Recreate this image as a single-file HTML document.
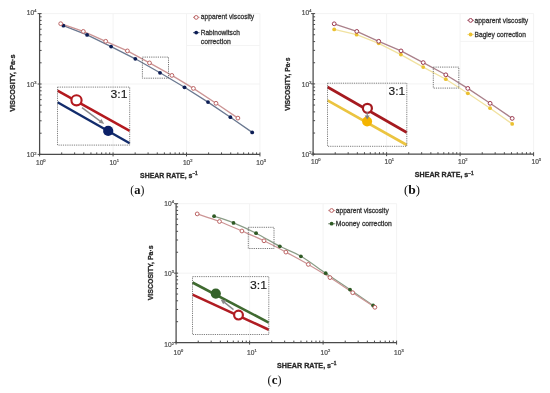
<!DOCTYPE html><html><head><meta charset="utf-8"><style>html,body{margin:0;padding:0;background:#fff;}svg{display:block;}</style></head><body><svg width="550" height="393" viewBox="0 0 550 393">
<style>.tl{font-family:'Liberation Sans', Arial, sans-serif;font-size:6.6px;fill:#505050;stroke:#505050;stroke-width:0.22px;}.sup{font-size:4px;}.al{font-family:'Liberation Sans', Arial, sans-serif;font-weight:bold;font-size:7.6px;fill:#2a2a2a;stroke:#2a2a2a;stroke-width:0.3px;}.lg{font-family:'Liberation Sans', Arial, sans-serif;font-size:7px;fill:#333;stroke:#333;stroke-width:0.28px;}.cap{font-family:'Liberation Serif', 'Times New Roman', serif;font-size:12.5px;fill:#111;}.r31{font-family:'Liberation Sans', Arial, sans-serif;font-size:11.2px;fill:#1a1a1a;stroke:#1a1a1a;stroke-width:0.15px;}</style>
<rect width="550" height="393" fill="#fff"/>
<line x1="113.05" y1="13.60" x2="113.05" y2="154.40" stroke="#f3f3f3" stroke-width="1"/>
<line x1="186.50" y1="13.60" x2="186.50" y2="154.40" stroke="#f3f3f3" stroke-width="1"/>
<line x1="259.95" y1="13.60" x2="259.95" y2="154.40" stroke="#f3f3f3" stroke-width="1"/>
<line x1="39.60" y1="84.00" x2="259.95" y2="84.00" stroke="#f3f3f3" stroke-width="1"/>
<line x1="39.60" y1="13.60" x2="259.95" y2="13.60" stroke="#f3f3f3" stroke-width="1"/>
<path d="M61.71 154.40v-2 M74.64 154.40v-2 M83.82 154.40v-2 M90.94 154.40v-2 M96.76 154.40v-2 M101.67 154.40v-2 M105.93 154.40v-2 M109.69 154.40v-2 M135.16 154.40v-2 M148.09 154.40v-2 M157.27 154.40v-2 M164.39 154.40v-2 M170.21 154.40v-2 M175.12 154.40v-2 M179.38 154.40v-2 M183.14 154.40v-2 M208.61 154.40v-2 M221.54 154.40v-2 M230.72 154.40v-2 M237.84 154.40v-2 M243.66 154.40v-2 M248.57 154.40v-2 M252.83 154.40v-2 M256.59 154.40v-2 M39.60 152.40v4 M113.05 152.40v4 M186.50 152.40v4 M259.95 152.40v4 M39.60 133.21h2 M39.60 120.81h2 M39.60 112.01h2 M39.60 105.19h2 M39.60 99.62h2 M39.60 94.91h2 M39.60 90.82h2 M39.60 87.22h2 M39.60 62.81h2 M39.60 50.41h2 M39.60 41.61h2 M39.60 34.79h2 M39.60 29.22h2 M39.60 24.51h2 M39.60 20.42h2 M39.60 16.82h2 M37.60 154.40h4 M37.60 84.00h4 M37.60 13.60h4" stroke="#4a4a4a" stroke-width="1" fill="none"/>
<path d="M39.60 13.60V154.40H259.95" stroke="#4a4a4a" stroke-width="1.25" fill="none"/>
<text x="36.40" y="157.40" text-anchor="end" class="tl">10<tspan class="sup" dy="-2.8">2</tspan></text>
<text x="36.40" y="86.80" text-anchor="end" class="tl">10<tspan class="sup" dy="-2.8">3</tspan></text>
<text x="36.40" y="15.20" text-anchor="end" class="tl">10<tspan class="sup" dy="-2.8">4</tspan></text>
<text x="36.00" y="165.00" class="tl">10<tspan class="sup" dy="-2.8">0</tspan></text>
<text x="109.45" y="165.00" class="tl">10<tspan class="sup" dy="-2.8">1</tspan></text>
<text x="182.90" y="165.00" class="tl">10<tspan class="sup" dy="-2.8">2</tspan></text>
<text x="256.35" y="165.00" class="tl">10<tspan class="sup" dy="-2.8">3</tspan></text>
<polyline points="63.40,25.70 87.10,34.90 111.10,46.60 135.30,58.80 160.00,72.80 184.50,87.30 208.00,102.10 230.40,117.20 252.20,132.40" fill="none" stroke="#6a7890" stroke-width="1.3" stroke-opacity="1.0" stroke-linejoin="round"/>
<polyline points="60.70,23.70 83.30,31.40 105.70,41.30 127.40,50.90 149.50,62.90 171.90,75.40 193.40,88.40 216.00,103.30 237.90,118.10" fill="none" stroke="#cc9595" stroke-width="1.3" stroke-opacity="1.0" stroke-linejoin="round"/>
<circle cx="63.40" cy="25.70" r="1.9" fill="#0c1d55"/>
<circle cx="87.10" cy="34.90" r="1.9" fill="#0c1d55"/>
<circle cx="111.10" cy="46.60" r="1.9" fill="#0c1d55"/>
<circle cx="135.30" cy="58.80" r="1.9" fill="#0c1d55"/>
<circle cx="160.00" cy="72.80" r="1.9" fill="#0c1d55"/>
<circle cx="184.50" cy="87.30" r="1.9" fill="#0c1d55"/>
<circle cx="208.00" cy="102.10" r="1.9" fill="#0c1d55"/>
<circle cx="230.40" cy="117.20" r="1.9" fill="#0c1d55"/>
<circle cx="252.20" cy="132.40" r="1.9" fill="#0c1d55"/>
<circle cx="60.70" cy="23.70" r="1.9" fill="#fff" stroke="#bc6464" stroke-width="1.0"/>
<circle cx="83.30" cy="31.40" r="1.9" fill="#fff" stroke="#bc6464" stroke-width="1.0"/>
<circle cx="105.70" cy="41.30" r="1.9" fill="#fff" stroke="#bc6464" stroke-width="1.0"/>
<circle cx="127.40" cy="50.90" r="1.9" fill="#fff" stroke="#bc6464" stroke-width="1.0"/>
<circle cx="149.50" cy="62.90" r="1.9" fill="#fff" stroke="#bc6464" stroke-width="1.0"/>
<circle cx="171.90" cy="75.40" r="1.9" fill="#fff" stroke="#bc6464" stroke-width="1.0"/>
<circle cx="193.40" cy="88.40" r="1.9" fill="#fff" stroke="#bc6464" stroke-width="1.0"/>
<circle cx="216.00" cy="103.30" r="1.9" fill="#fff" stroke="#bc6464" stroke-width="1.0"/>
<circle cx="237.90" cy="118.10" r="1.9" fill="#fff" stroke="#bc6464" stroke-width="1.0"/>
<rect x="142.40" y="57.10" width="26.10" height="21.10" fill="none" stroke="#666" stroke-width="0.9" stroke-dasharray="1.2 1"/>
<line x1="386.60" y1="13.60" x2="386.60" y2="154.20" stroke="#f3f3f3" stroke-width="1"/>
<line x1="460.10" y1="13.60" x2="460.10" y2="154.20" stroke="#f3f3f3" stroke-width="1"/>
<line x1="533.60" y1="13.60" x2="533.60" y2="154.20" stroke="#f3f3f3" stroke-width="1"/>
<line x1="313.10" y1="83.90" x2="533.60" y2="83.90" stroke="#f3f3f3" stroke-width="1"/>
<line x1="313.10" y1="13.60" x2="533.60" y2="13.60" stroke="#f3f3f3" stroke-width="1"/>
<path d="M335.23 154.20v-2 M348.17 154.20v-2 M357.35 154.20v-2 M364.47 154.20v-2 M370.29 154.20v-2 M375.21 154.20v-2 M379.48 154.20v-2 M383.24 154.20v-2 M408.73 154.20v-2 M421.67 154.20v-2 M430.85 154.20v-2 M437.97 154.20v-2 M443.79 154.20v-2 M448.71 154.20v-2 M452.98 154.20v-2 M456.74 154.20v-2 M482.23 154.20v-2 M495.17 154.20v-2 M504.35 154.20v-2 M511.47 154.20v-2 M517.29 154.20v-2 M522.21 154.20v-2 M526.48 154.20v-2 M530.24 154.20v-2 M313.10 152.20v4 M386.60 152.20v4 M460.10 152.20v4 M533.60 152.20v4 M313.10 133.04h2 M313.10 120.66h2 M313.10 111.88h2 M313.10 105.06h2 M313.10 99.50h2 M313.10 94.79h2 M313.10 90.71h2 M313.10 87.12h2 M313.10 62.74h2 M313.10 50.36h2 M313.10 41.58h2 M313.10 34.76h2 M313.10 29.20h2 M313.10 24.49h2 M313.10 20.41h2 M313.10 16.82h2 M311.10 154.20h4 M311.10 83.90h4 M311.10 13.60h4" stroke="#4a4a4a" stroke-width="1" fill="none"/>
<path d="M313.10 13.60V154.20H533.60" stroke="#4a4a4a" stroke-width="1.25" fill="none"/>
<text x="311.40" y="156.60" text-anchor="end" class="tl">10<tspan class="sup" dy="-2.8">2</tspan></text>
<text x="311.40" y="86.70" text-anchor="end" class="tl">10<tspan class="sup" dy="-2.8">3</tspan></text>
<text x="311.40" y="15.20" text-anchor="end" class="tl">10<tspan class="sup" dy="-2.8">4</tspan></text>
<text x="311.00" y="164.10" class="tl">10<tspan class="sup" dy="-2.8">0</tspan></text>
<text x="384.50" y="164.10" class="tl">10<tspan class="sup" dy="-2.8">1</tspan></text>
<text x="458.00" y="164.10" class="tl">10<tspan class="sup" dy="-2.8">2</tspan></text>
<text x="531.50" y="164.10" class="tl">10<tspan class="sup" dy="-2.8">3</tspan></text>
<polyline points="334.20,29.40 356.60,34.70 378.70,43.30 400.90,54.60 423.20,67.10 445.80,79.20 467.80,93.30 490.10,108.20 512.20,123.90" fill="none" stroke="#f1e2a0" stroke-width="1.3" stroke-opacity="1.0" stroke-linejoin="round"/>
<polyline points="334.20,23.80 356.80,31.40 378.70,41.30 401.00,50.90 423.20,62.60 445.80,74.80 467.80,88.40 490.10,103.30 512.20,118.40" fill="none" stroke="#aa808a" stroke-width="1.3" stroke-opacity="1.0" stroke-linejoin="round"/>
<circle cx="334.20" cy="29.40" r="1.9" fill="#ebc030"/>
<circle cx="356.60" cy="34.70" r="1.9" fill="#ebc030"/>
<circle cx="378.70" cy="43.30" r="1.9" fill="#ebc030"/>
<circle cx="400.90" cy="54.60" r="1.9" fill="#ebc030"/>
<circle cx="423.20" cy="67.10" r="1.9" fill="#ebc030"/>
<circle cx="445.80" cy="79.20" r="1.9" fill="#ebc030"/>
<circle cx="467.80" cy="93.30" r="1.9" fill="#ebc030"/>
<circle cx="490.10" cy="108.20" r="1.9" fill="#ebc030"/>
<circle cx="512.20" cy="123.90" r="1.9" fill="#ebc030"/>
<circle cx="334.20" cy="23.80" r="1.9" fill="#fff" stroke="#9c3a50" stroke-width="1.0"/>
<circle cx="356.80" cy="31.40" r="1.9" fill="#fff" stroke="#9c3a50" stroke-width="1.0"/>
<circle cx="378.70" cy="41.30" r="1.9" fill="#fff" stroke="#9c3a50" stroke-width="1.0"/>
<circle cx="401.00" cy="50.90" r="1.9" fill="#fff" stroke="#9c3a50" stroke-width="1.0"/>
<circle cx="423.20" cy="62.60" r="1.9" fill="#fff" stroke="#9c3a50" stroke-width="1.0"/>
<circle cx="445.80" cy="74.80" r="1.9" fill="#fff" stroke="#9c3a50" stroke-width="1.0"/>
<circle cx="467.80" cy="88.40" r="1.9" fill="#fff" stroke="#9c3a50" stroke-width="1.0"/>
<circle cx="490.10" cy="103.30" r="1.9" fill="#fff" stroke="#9c3a50" stroke-width="1.0"/>
<circle cx="512.20" cy="118.40" r="1.9" fill="#fff" stroke="#9c3a50" stroke-width="1.0"/>
<rect x="433.30" y="67.10" width="25.50" height="21.00" fill="none" stroke="#666" stroke-width="0.9" stroke-dasharray="1.2 1"/>
<line x1="249.60" y1="203.70" x2="249.60" y2="342.60" stroke="#f3f3f3" stroke-width="1"/>
<line x1="323.10" y1="203.70" x2="323.10" y2="342.60" stroke="#f3f3f3" stroke-width="1"/>
<line x1="396.60" y1="203.70" x2="396.60" y2="342.60" stroke="#f3f3f3" stroke-width="1"/>
<line x1="176.10" y1="273.15" x2="396.60" y2="273.15" stroke="#f3f3f3" stroke-width="1"/>
<line x1="176.10" y1="203.70" x2="396.60" y2="203.70" stroke="#f3f3f3" stroke-width="1"/>
<path d="M198.23 342.60v-2 M211.17 342.60v-2 M220.35 342.60v-2 M227.47 342.60v-2 M233.29 342.60v-2 M238.21 342.60v-2 M242.48 342.60v-2 M246.24 342.60v-2 M271.73 342.60v-2 M284.67 342.60v-2 M293.85 342.60v-2 M300.97 342.60v-2 M306.79 342.60v-2 M311.71 342.60v-2 M315.98 342.60v-2 M319.74 342.60v-2 M345.23 342.60v-2 M358.17 342.60v-2 M367.35 342.60v-2 M374.47 342.60v-2 M380.29 342.60v-2 M385.21 342.60v-2 M389.48 342.60v-2 M393.24 342.60v-2 M176.10 340.60v4 M249.60 340.60v4 M323.10 340.60v4 M396.60 340.60v4 M176.10 321.69h2 M176.10 309.46h2 M176.10 300.79h2 M176.10 294.06h2 M176.10 288.56h2 M176.10 283.91h2 M176.10 279.88h2 M176.10 276.33h2 M176.10 252.24h2 M176.10 240.01h2 M176.10 231.34h2 M176.10 224.61h2 M176.10 219.11h2 M176.10 214.46h2 M176.10 210.43h2 M176.10 206.88h2 M174.10 342.60h4 M174.10 273.15h4 M174.10 203.70h4" stroke="#4a4a4a" stroke-width="1" fill="none"/>
<path d="M176.10 203.70V342.60H396.60" stroke="#4a4a4a" stroke-width="1.25" fill="none"/>
<text x="173.90" y="347.40" text-anchor="end" class="tl">10<tspan class="sup" dy="-2.8">2</tspan></text>
<text x="173.90" y="276.05" text-anchor="end" class="tl">10<tspan class="sup" dy="-2.8">3</tspan></text>
<text x="173.90" y="205.60" text-anchor="end" class="tl">10<tspan class="sup" dy="-2.8">4</tspan></text>
<text x="173.60" y="354.50" class="tl">10<tspan class="sup" dy="-2.8">0</tspan></text>
<text x="247.10" y="354.50" class="tl">10<tspan class="sup" dy="-2.8">1</tspan></text>
<text x="320.60" y="354.50" class="tl">10<tspan class="sup" dy="-2.8">2</tspan></text>
<text x="394.10" y="354.50" class="tl">10<tspan class="sup" dy="-2.8">3</tspan></text>
<path d="M214.10 216.20 C217.33 217.32 226.50 220.07 233.50 222.90 C240.50 225.73 248.38 229.30 256.10 233.20 C263.82 237.10 272.33 242.45 279.80 246.30 C287.27 250.15 293.25 251.82 300.90 256.30 C308.55 260.78 317.52 267.65 325.70 273.20 C333.88 278.75 342.10 284.22 350.00 289.60 C357.90 294.98 369.25 302.85 373.10 305.50" fill="none" stroke="#8a9c86" stroke-width="1.2" stroke-opacity="1.0"/>
<path d="M197.20 213.90 C200.92 215.17 212.05 218.65 219.50 221.50 C226.95 224.35 234.48 227.78 241.90 231.00 C249.32 234.22 256.67 237.28 264.00 240.80 C271.33 244.32 278.52 248.17 285.90 252.10 C293.28 256.03 300.95 260.15 308.30 264.40 C315.65 268.65 322.60 272.88 330.00 277.60 C337.40 282.32 345.22 287.75 352.70 292.70 C360.18 297.65 371.20 304.87 374.90 307.30" fill="none" stroke="#cc9595" stroke-width="1.2" stroke-opacity="1.0"/>
<circle cx="214.10" cy="216.20" r="1.9" fill="#2f5a25"/>
<circle cx="233.50" cy="222.90" r="1.9" fill="#2f5a25"/>
<circle cx="256.10" cy="233.20" r="1.9" fill="#2f5a25"/>
<circle cx="279.80" cy="246.30" r="1.9" fill="#2f5a25"/>
<circle cx="300.90" cy="256.30" r="1.9" fill="#2f5a25"/>
<circle cx="325.70" cy="273.20" r="1.9" fill="#2f5a25"/>
<circle cx="350.00" cy="289.60" r="1.9" fill="#2f5a25"/>
<circle cx="373.10" cy="305.50" r="1.9" fill="#2f5a25"/>
<circle cx="197.20" cy="213.90" r="1.9" fill="#fff" stroke="#bc6464" stroke-width="1.0"/>
<circle cx="219.50" cy="221.50" r="1.9" fill="#fff" stroke="#bc6464" stroke-width="1.0"/>
<circle cx="241.90" cy="231.00" r="1.9" fill="#fff" stroke="#bc6464" stroke-width="1.0"/>
<circle cx="264.00" cy="240.80" r="1.9" fill="#fff" stroke="#bc6464" stroke-width="1.0"/>
<circle cx="285.90" cy="252.10" r="1.9" fill="#fff" stroke="#bc6464" stroke-width="1.0"/>
<circle cx="308.30" cy="264.40" r="1.9" fill="#fff" stroke="#bc6464" stroke-width="1.0"/>
<circle cx="330.00" cy="277.60" r="1.9" fill="#fff" stroke="#bc6464" stroke-width="1.0"/>
<circle cx="352.70" cy="292.70" r="1.9" fill="#fff" stroke="#bc6464" stroke-width="1.0"/>
<circle cx="374.90" cy="307.30" r="1.9" fill="#fff" stroke="#bc6464" stroke-width="1.0"/>
<rect x="248.30" y="227.30" width="25.70" height="21.20" fill="none" stroke="#666" stroke-width="0.9" stroke-dasharray="1.2 1"/>
<line x1="57.5" y1="90.7" x2="129.7" y2="130.9" stroke="#b3191e" stroke-width="2.5"/>
<line x1="57.5" y1="102.3" x2="129.7" y2="143.3" stroke="#122c6c" stroke-width="2.4"/>
<line x1="82" y1="107.6" x2="101.5" y2="122.1" stroke="#8a8a8a" stroke-width="1.4"/>
<path d="M104.2 124.1 L98.6 122.6 L101.4 118.9 Z" fill="#8a8a8a"/>
<circle cx="76.5" cy="100.3" r="5.1" fill="#fff" stroke="#b3191e" stroke-width="2.1"/>
<circle cx="108.2" cy="130.9" r="5.1" fill="#0b2068"/>
<rect x="57.50" y="87.10" width="72.20" height="58.00" fill="none" stroke="#707070" stroke-width="0.9" stroke-dasharray="1.2 1"/>
<text x="110.6" y="97.8" class="r31" textLength="16.9" lengthAdjust="spacingAndGlyphs">3:1</text>
<line x1="327.5" y1="87" x2="406.8" y2="132.5" stroke="#a51a1f" stroke-width="2.6"/>
<line x1="327.5" y1="100.4" x2="406.8" y2="145" stroke="#ebc440" stroke-width="2.6"/>
<circle cx="367.1" cy="121.5" r="5" fill="#f4b400"/>
<circle cx="367.4" cy="108.3" r="4.5" fill="#fff" stroke="#a51a1f" stroke-width="2.2"/>
<line x1="367.2" y1="112" x2="367.2" y2="116.5" stroke="#808080" stroke-width="1.2"/>
<path d="M364.7 115.6 L369.7 115.6 L367.2 119.6 Z" fill="#808080"/>
<rect x="327.50" y="83.20" width="79.30" height="63.10" fill="none" stroke="#707070" stroke-width="0.9" stroke-dasharray="1.2 1"/>
<text x="388.6" y="95.2" class="r31" textLength="16.6" lengthAdjust="spacingAndGlyphs">3:1</text>
<line x1="192.5" y1="282.5" x2="268.8" y2="322.6" stroke="#3f6a30" stroke-width="2.6"/>
<line x1="192.5" y1="294.6" x2="268.8" y2="329.7" stroke="#b01c22" stroke-width="2.6"/>
<line x1="233.5" y1="309.6" x2="223.5" y2="301.6" stroke="#8a8a8a" stroke-width="1.4"/>
<path d="M220.6 299.4 L226.2 300.6 L223.2 304.2 Z" fill="#8a8a8a"/>
<circle cx="215.8" cy="293.6" r="5.1" fill="#35622a"/>
<circle cx="238.5" cy="315.1" r="4.4" fill="#fff" stroke="#b01c22" stroke-width="2.2"/>
<rect x="192.50" y="276.60" width="76.30" height="57.90" fill="none" stroke="#707070" stroke-width="0.9" stroke-dasharray="1.2 1"/>
<text x="250" y="288.7" class="r31" textLength="17" lengthAdjust="spacingAndGlyphs">3:1</text>
<line x1="186.5" y1="45.5" x2="259.9" y2="45.5" stroke="#f1f1f1" stroke-width="0.8"/>
<line x1="193" y1="17.4" x2="199.5" y2="17.4" stroke="#cc9595" stroke-width="1.2"/>
<circle cx="196.20" cy="17.40" r="1.9" fill="#fff" stroke="#bc6464" stroke-width="1.0"/>
<text x="200.8" y="19.2" class="lg" textLength="53.4" lengthAdjust="spacingAndGlyphs">apparent viscosity</text>
<line x1="193" y1="32.6" x2="199.5" y2="32.6" stroke="#6a7890" stroke-width="1.2"/>
<circle cx="196.20" cy="32.60" r="1.9" fill="#0c1d55"/>
<text x="200.7" y="34.8" class="lg" textLength="39.2" lengthAdjust="spacingAndGlyphs">Rabinowitsch</text>
<text x="200.7" y="43.5" class="lg" textLength="30.2" lengthAdjust="spacingAndGlyphs">correction</text>
<line x1="460.2" y1="41.4" x2="533.6" y2="41.4" stroke="#f1f1f1" stroke-width="0.8"/>
<line x1="467.3" y1="20.4" x2="474" y2="20.4" stroke="#aa808a" stroke-width="1.2"/>
<circle cx="470.60" cy="20.40" r="1.9" fill="#fff" stroke="#9c3a50" stroke-width="1.0"/>
<text x="474.5" y="22.6" class="lg" textLength="53.7" lengthAdjust="spacingAndGlyphs">apparent viscosity</text>
<line x1="467.3" y1="34.5" x2="474" y2="34.5" stroke="#f1e2a0" stroke-width="1.2"/>
<circle cx="470.60" cy="34.50" r="1.9" fill="#ebc030"/>
<text x="474.5" y="36.7" class="lg" textLength="51.5" lengthAdjust="spacingAndGlyphs">Bagley correction</text>
<line x1="328.2" y1="210.5" x2="335.3" y2="210.5" stroke="#cc9595" stroke-width="1.2"/>
<circle cx="331.60" cy="210.50" r="1.9" fill="#fff" stroke="#bc6464" stroke-width="1.0"/>
<text x="335.8" y="212.7" class="lg" textLength="52.9" lengthAdjust="spacingAndGlyphs">apparent viscosity</text>
<line x1="328.2" y1="223.7" x2="335.3" y2="223.7" stroke="#8a9c86" stroke-width="1.2"/>
<circle cx="331.60" cy="223.70" r="1.9" fill="#2f5a25"/>
<text x="335.8" y="225.9" class="lg" textLength="56" lengthAdjust="spacingAndGlyphs">Mooney correction</text>
<text transform="translate(15.20,111.80) rotate(-90)" class="al" textLength="57.3" lengthAdjust="spacingAndGlyphs">VISCOSITY, Pa·s</text>
<text transform="translate(290.20,110.80) rotate(-90)" class="al" textLength="53.4" lengthAdjust="spacingAndGlyphs">VISCOSITY, Pa·s</text>
<text transform="translate(153.10,300.30) rotate(-90)" class="al" textLength="55.0" lengthAdjust="spacingAndGlyphs">VISCOSITY, Pa·s</text>
<text x="140.00" y="177.70" class="al" textLength="57.6" lengthAdjust="spacingAndGlyphs">SHEAR RATE, s<tspan dy="-2.6" font-size="5">−1</tspan></text>
<text x="414.80" y="177.30" class="al" textLength="58.8" lengthAdjust="spacingAndGlyphs">SHEAR RATE, s<tspan dy="-2.6" font-size="5">−1</tspan></text>
<text x="277.10" y="367.80" class="al" textLength="59.4" lengthAdjust="spacingAndGlyphs">SHEAR RATE, s<tspan dy="-2.6" font-size="5">−1</tspan></text>
<text x="130.3" y="193.8" class="cap" textLength="14.1" lengthAdjust="spacingAndGlyphs">(<tspan font-weight="bold" font-size="13.3px">a</tspan>)</text>
<text x="404" y="194" class="cap" textLength="16" lengthAdjust="spacingAndGlyphs">(<tspan font-weight="bold" font-size="13.3px">b</tspan>)</text>
<text x="267.6" y="384.2" class="cap" textLength="13.9" lengthAdjust="spacingAndGlyphs">(<tspan font-weight="bold" font-size="13.3px">c</tspan>)</text>
</svg></body></html>
